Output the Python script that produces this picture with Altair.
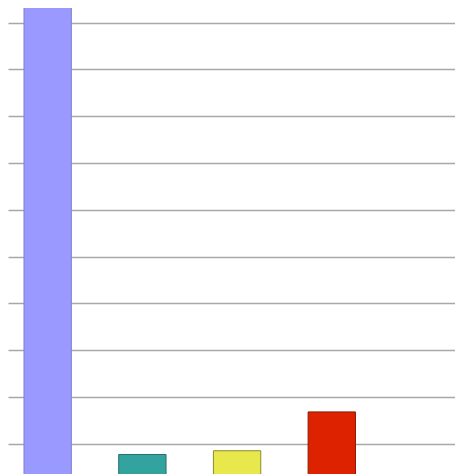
import altair as alt
import pandas as pd

categories = ["A", "B", "C", "D"]
values = [120, 7.7, 8.5, 16.8]
colors = ["#9999ff", "#33a3a0", "#e8e84d", "#dd2200"]
strokes = ["#8080cc", "#2a6e6b", "#8a8a30", "#8a1a00"]
grid_values = [10, 20, 30, 40, 50, 60, 70, 80, 90, 100]

df = pd.DataFrame({"cat": categories, "val": values})

chart = alt.Chart(df).mark_bar(clip=True, strokeWidth=1).encode(
    x=alt.X("cat:N", sort=categories,
            scale=alt.Scale(paddingInner=0.5, paddingOuter=0.61, align=0.1385),
            axis=None),
    y=alt.Y("val:Q",
            scale=alt.Scale(domain=[3.53, 103.1], zero=False, nice=False),
            axis=alt.Axis(values=grid_values, grid=True, gridColor="#a8a8a8", gridWidth=1.4,
                          labels=False, ticks=False, domain=False, title=None)),
    color=alt.Color("cat:N", scale=alt.Scale(domain=categories, range=colors), legend=None),
    stroke=alt.Stroke("cat:N", scale=alt.Scale(domain=categories, range=strokes), legend=None),
).properties(
    width=447, height=466, padding=0, autosize="none"
).configure_view(stroke=None)

chart.save("out.html", embed_options={"renderer": "svg", "actions": False})
